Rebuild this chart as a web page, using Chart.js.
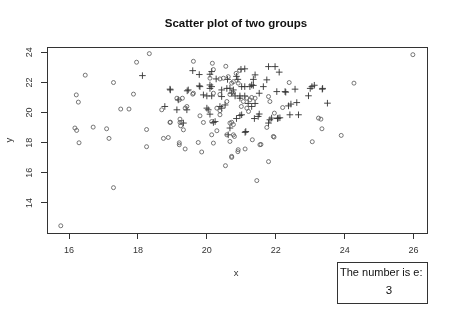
<!DOCTYPE html>
<html>
<head>
<meta charset="utf-8">
<script src="https://cdn.jsdelivr.net/npm/chart.js@4/dist/chart.umd.min.js"></script>
<style>
html,body{margin:0;padding:0;background:#fff;}
canvas{display:block;}
</style>
</head>
<body>
<canvas id="c" width="474" height="326"></canvas>
<script>
const titleText = "Scatter plot of two groups";
const xLabel = "x";
const yLabel = "y";
const legendLine1 = "The number is e:";
const legendLine2 = "3";
const xTicks = [16, 18, 20, 22, 24, 26];
const yTicks = [14, 16, 18, 20, 22, 24];

// group 1 (open circles)
const circleX = [18.33,17.96,16.47,17.29,16.21,16.27,17.87,17.50,17.74,18.69,18.94,16.17,16.22,16.70,17.09,17.16,16.29,18.25,18.25,18.74,18.88,19.20,19.20,19.37,19.75,19.85,20.19,20.14,20.29,20.54,20.72,20.90,20.67,20.58,20.77,20.80,19.90,18.93,19.22,19.24,19.32,20.77,20.67,
15.76,17.29,25.98,24.27,22.39,22.20,23.24,23.31,23.34,23.90,23.06,21.45,21.79,21.95,21.57,21.32,21.11,21.74,
19.61,20.16,20.55,20.19,20.09,20.38,20.48,20.62,20.72,20.77,20.91,20.85,20.95,19.20,19.42,19.29,19.59,19.37,19.80,20.29,20.38,20.38,19.22,19.27,20.14,20.38,20.67,20.77,20.19,19.61,19.13,20.58,21.06,21.16,21.25,21.40,21.16,21.21,21.83,21.79,21.96,21.93,21.54,20.72,20.91,20.72,21.00,21.30];
const circleY = [23.91,23.34,22.48,21.99,21.17,20.69,21.22,20.23,20.23,20.18,19.36,18.97,18.81,19.03,18.92,18.28,17.99,18.87,17.73,18.28,18.34,17.99,17.86,17.58,18.01,17.38,17.97,18.52,18.79,16.47,17.02,17.40,18.08,18.52,18.52,18.41,19.34,19.34,19.34,19.12,18.85,19.20,19.30,
12.48,15.01,23.84,21.95,21.99,20.33,19.63,19.56,18.92,18.48,18.06,15.48,16.74,18.37,17.88,18.19,17.58,19.01,
23.40,23.27,23.07,22.85,22.28,22.23,22.28,22.38,21.95,22.05,21.95,22.60,22.80,20.84,20.40,20.95,21.22,20.29,19.78,20.29,20.12,19.85,19.56,19.35,19.40,21.20,21.20,21.30,21.28,21.28,20.95,20.73,20.73,20.95,20.84,20.95,20.29,20.07,20.73,21.06,19.96,18.41,17.86,17.09,17.53,19.35,20.40,21.00];

// group 2 (plus signs)
const crossX = [18.13,18.94,18.78,19.13,19.17,22.29,22.56,23.05,23.12,23.35,22.95,23.50,22.44,22.61,22.41,22.66,22.12,
19.59,19.78,20.09,21.79,21.98,22.10,20.99,21.10,21.40,21.74,21.35,
19.43,19.78,19.90,20.14,20.67,21.01,21.30,21.52,22.03,20.43,20.72,20.96,
19.42,20.04,20.43,21.01,21.49,21.88,20.67,21.13,22.07,21.11,21.79,19.32,20.19,20.62,
20.14,20.27,20.60,18.93,19.46,19.80,20.09,20.09,20.00,20.14,20.43,20.58,20.77,20.82,20.96,20.00,20.09,20.38,20.53,20.24,
20.86,20.90,21.10,21.25,21.35,21.64,21.10,22.27,23.00,23.36,22.37,22.05,21.38,21.52,20.86,20.96,21.20,21.40,21.30,21.83];
const crossY = [22.45,21.50,20.40,20.18,20.84,21.35,21.55,21.72,21.81,21.55,21.11,20.62,20.56,20.66,19.85,19.85,19.65,
22.78,22.52,22.54,23.05,23.05,22.68,22.87,22.90,22.50,22.17,22.20,
21.44,21.77,21.17,21.72,21.61,21.72,21.83,21.28,21.39,21.06,21.28,20.95,
20.18,20.18,20.29,19.85,19.74,19.63,18.97,18.74,19.63,18.68,19.30,19.30,19.34,18.52,
22.72,22.23,22.20,21.55,21.50,21.72,21.83,21.60,21.10,21.10,21.50,21.60,21.50,21.10,21.10,20.29,19.89,20.40,20.50,19.40,
22.40,22.20,21.72,21.72,21.80,21.72,21.10,21.39,21.60,21.60,20.44,19.60,19.60,19.90,19.60,19.80,20.60,20.60,20.40,19.52];

const toPts = (xs, ys) => xs.map((x, i) => ({x: x, y: ys[i]}));
const FONT = "'Liberation Sans', Arial, sans-serif";

const decor = {
  id: 'decor',
  afterDraw(chart) {
    const ctx = chart.ctx;
    const a = chart.chartArea;
    const ys = chart.scales.y;
    ctx.save();
    ctx.strokeStyle = '#333';
    ctx.lineWidth = 1;
    ctx.strokeRect(Math.round(a.left) + 0.5, Math.round(a.top) + 0.5, Math.round(a.right - a.left), Math.round(a.bottom - a.top));
    ctx.textAlign = 'center';
    ctx.textBaseline = 'middle';
    // rotated y tick labels, positioned by the y scale
    ctx.fillStyle = '#333';
    ctx.font = "9px " + FONT;
    yTicks.forEach(v => {
      const py = ys.getPixelForValue(v);
      ctx.save();
      ctx.translate(30, py);
      ctx.rotate(-Math.PI / 2);
      ctx.fillText(String(v), 0, 0);
      ctx.restore();
    });
    ctx.fillStyle = '#111';
    ctx.font = "bold 11.5px " + FONT;
    ctx.fillText(titleText, 236, 24);
    ctx.font = "9.5px " + FONT;
    ctx.fillStyle = '#333';
    ctx.fillText(xLabel, 236, 273);
    ctx.save();
    ctx.translate(9, 140);
    ctx.rotate(-Math.PI / 2);
    ctx.fillText(yLabel, 0, 0);
    ctx.restore();
    // legend box
    ctx.fillStyle = '#fff';
    ctx.fillRect(337.5, 262.5, 90, 41);
    ctx.strokeStyle = '#333';
    ctx.strokeRect(337.5, 262.5, 90, 41);
    ctx.fillStyle = '#111';
    ctx.font = "11px " + FONT;
    ctx.textAlign = 'left';
    ctx.fillText(legendLine1, 340, 273);
    ctx.textAlign = 'center';
    ctx.font = "11.5px " + FONT;
    ctx.fillText(legendLine2, 389, 291);
    ctx.restore();
  }
};

new Chart(document.getElementById('c'), {
  type: 'scatter',
  data: {
    datasets: [
      {
        label: 'group 1',
        data: toPts(circleX, circleY),
        pointStyle: 'circle',
        pointRadius: 2,
        pointBorderWidth: 0.8,
        pointBorderColor: '#555',
        pointBackgroundColor: 'rgba(0,0,0,0)'
      },
      {
        label: 'group 2',
        data: toPts(crossX, crossY),
        pointStyle: 'cross',
        pointRadius: 3.3,
        pointBorderWidth: 0.9,
        pointBorderColor: '#333',
        pointBackgroundColor: '#333'
      }
    ]
  },
  options: {
    responsive: false,
    animation: false,
    devicePixelRatio: 1,
    layout: { padding: { top: 47, right: 47, left: 0, bottom: 0 } },
    plugins: { legend: { display: false }, title: { display: false }, tooltip: { enabled: false } },
    scales: {
      x: {
        type: 'linear',
        min: 15.36,
        max: 26.39,
        afterBuildTicks: s => { s.ticks = xTicks.map(v => ({value: v})); },
        afterFit: s => { s.height = 93; },
        border: { display: false },
        grid: { drawOnChartArea: false, drawTicks: true, tickLength: 6, color: '#333', lineWidth: 1 },
        ticks: { font: { family: FONT, size: 9 }, color: '#333', padding: 6, maxRotation: 0, autoSkip: false }
      },
      y: {
        type: 'linear',
        min: 12.0,
        max: 24.35,
        afterBuildTicks: s => { s.ticks = yTicks.map(v => ({value: v})); },
        afterFit: s => { s.width = 47; },
        border: { display: false },
        grid: { drawOnChartArea: false, drawTicks: true, tickLength: 6, color: '#333', lineWidth: 1 },
        ticks: { display: false }
      }
    }
  },
  plugins: [decor]
});
</script>
</body>
</html>
